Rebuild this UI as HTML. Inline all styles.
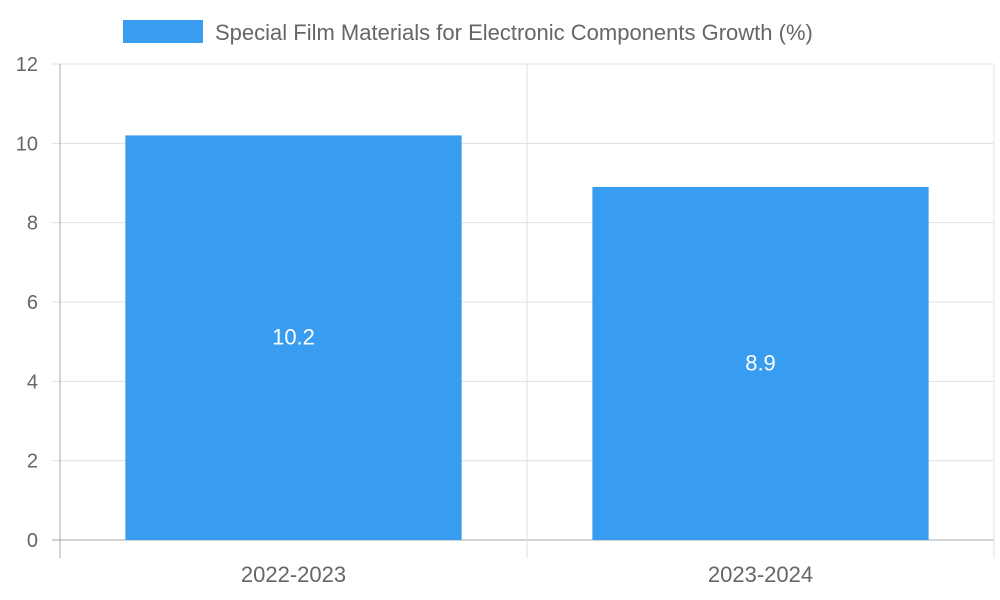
<!DOCTYPE html>
<html><head><meta charset="utf-8"><style>
html,body{margin:0;padding:0;background:#fff;}
svg{display:block;font-family:"Liberation Sans",sans-serif;}
</style></head><body>
<svg id="chart" width="1000" height="600"></svg>
<script>
const categories = ["2022-2023", "2023-2024"];
const seriesValues = [10.2, 8.9];
const yTicks = [0, 2, 4, 6, 8, 10, 12];
const seriesName = "Special Film Materials for Electronic Components Growth (%)";

const NS = "http://www.w3.org/2000/svg";
const svg = document.getElementById("chart");
const L = 60, R = 994, T = 64, B = 540, yMax = 12;
const yScale = v => B - (v / yMax) * (B - T);
const bandW = (R - L) / categories.length;
const xBand = i => L + i * bandW;
function mk(tag, attrs, parent) {
  const e = document.createElementNS(NS, tag);
  for (const k in attrs) e.setAttribute(k, attrs[k]);
  (parent || svg).appendChild(e);
  return e;
}
// legend
const lg = mk("g", {});


const lbox = mk("rect", {x: 123, y: 20, width: 80, height: 23, fill: "#389cf1"}, lg);


const lt = mk("text", {x: 215, y: 40, "font-size": 22, fill: "#666"}, lg);
lt.textContent = seriesName;


// horizontal grid + y labels
yTicks.forEach(v => {
  const y = yScale(v);
  const gl = mk("line", {x1: L - 8, x2: R, y1: y, y2: y, stroke: v === 0 ? "#aaa" : "#e0e0e0", "stroke-width": 1});
  
  
  const t = mk("text", {x: 38, y: y + 7, "font-size": 20, fill: "#666", "text-anchor": "end"});
  t.textContent = v;
  
  
});
// vertical grid
for (let i = 0; i <= categories.length; i++) {
  const x = xBand(i);
  const vl = mk("line", {x1: x, x2: x, y1: T, y2: B + 18, stroke: i === 0 ? "#aaa" : "#e0e0e0", "stroke-width": 1});
  
  
}
// bars
categories.forEach((c, i) => {
  const v = seriesValues[i];
  const w = bandW * 0.72;
  const x = xBand(i) + (bandW - w) / 2;
  const y = yScale(v);
  const r = mk("rect", {x: x, y: y, width: w, height: B - y, fill: "#389cf1"});
  
  
  const vt = mk("text", {x: x + w / 2, y: (y + B) / 2 + 7, "font-size": 22, fill: "#fff", "text-anchor": "middle"});
  vt.textContent = v;
  
  
  const xt = mk("text", {x: xBand(i) + bandW / 2, y: 582, "font-size": 22, fill: "#666", "text-anchor": "middle"});
  xt.textContent = c;
  
  
});
</script>
</body></html>
